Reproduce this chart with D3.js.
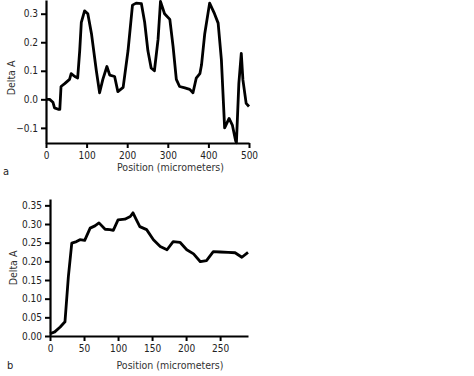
<!DOCTYPE html>
<html><head><meta charset="utf-8">
<script src="https://cdn.jsdelivr.net/npm/d3@7"></script>
<style>
body{margin:0;background:#fff;}
svg{display:block;}
text{font-family:"DejaVu Sans Condensed","DejaVu Sans",sans-serif;font-stretch:condensed;}
</style></head>
<body>
<svg id="c" width="474" height="376"></svg>
<script>
// Panel a
const posA = [0,9,17,21,30,34,37,46,58,62,71,78,83,87,95,103,112,124,132,140,150,157,169,177,190,202,213,222,235,243,251,259,267,276,282,292,305,313,321,329,342,354,362,370,379,383,391,403,415,424,432,440,451,459,467,469,475,481,485,493,500];
const deltaA = [0,0,-0.01,-0.03,-0.035,-0.035,0.045,0.055,0.07,0.09,0.08,0.075,0.17,0.27,0.31,0.30,0.23,0.10,0.023,0.07,0.115,0.085,0.08,0.027,0.042,0.17,0.33,0.337,0.335,0.27,0.17,0.11,0.10,0.21,0.343,0.30,0.28,0.185,0.07,0.045,0.04,0.035,0.023,0.074,0.09,0.12,0.23,0.337,0.30,0.267,0.138,-0.10,-0.067,-0.09,-0.145,-0.152,0.056,0.161,0.068,-0.014,-0.025];
const ticksAX = [0,100,200,300,400,500];
const ticksAY = [-0.1,0.0,0.1,0.2,0.3];

// Panel b
const posB = [0,7,15,22,27,32,39,44,51,59,66,72,81,88,93,100,110,118,122,127,132,142,152,162,172,181,191,201,211,221,230,240,250,262,272,282,291];
const deltaB = [0.006,0.011,0.024,0.038,0.159,0.249,0.253,0.258,0.256,0.289,0.295,0.303,0.286,0.285,0.283,0.311,0.313,0.32,0.33,0.311,0.293,0.285,0.258,0.24,0.231,0.253,0.251,0.231,0.22,0.199,0.202,0.226,0.225,0.224,0.223,0.211,0.224];
const ticksBX = [0,50,100,150,200,250];
const ticksBY = [0,0.05,0.10,0.15,0.20,0.25,0.30,0.35];

const svg = d3.select("#c");
const FF = '"DejaVu Sans Condensed","DejaVu Sans",sans-serif';

function panel(cfg){
  const g = svg.append("g");
  const x = d3.scaleLinear().domain(cfg.xd).range(cfg.xr);
  const y = d3.scaleLinear().domain(cfg.yd).range(cfg.yr);
  const xa = g.append("g").attr("transform",`translate(0,${cfg.yr[0]})`)
    .call(d3.axisBottom(x).tickValues(cfg.tx).tickFormat(d3.format("d")).tickSize(5).tickSizeOuter(0));
  const ya = g.append("g").attr("transform",`translate(${cfg.xr[0]},0)`)
    .call(d3.axisLeft(y).tickValues(cfg.ty).tickFormat(d3.format(cfg.yf)).tickSize(5).tickSizeOuter(0));
  [xa,ya].forEach(a=>{
    a.select(".domain").attr("stroke","#000").attr("stroke-width",2.2);
    a.selectAll(".tick line").attr("stroke","#000").attr("stroke-width",2);
    a.selectAll(".tick text").attr("fill","#222").style("font-size","10px").style("font-family",FF).style("font-stretch","condensed");
  });
  xa.selectAll(".tick text").attr("y",8).attr("dy","0.75em");
  ya.selectAll(".tick text").attr("x",-8);
  const line = d3.line().x((d,i)=>x(cfg.px[i])).y(d=>y(d));
  g.append("path").datum(cfg.py).attr("d",line).attr("fill","none")
    .attr("stroke","#000").attr("stroke-width",2.8).attr("stroke-linejoin","round");
  g.append("text").attr("x",(cfg.xr[0]+cfg.xr[1])/2+cfg.tdx).attr("y",cfg.ty0)
    .attr("text-anchor","middle").attr("fill","#333").style("font-size","10.5px").text("Position (micrometers)");
  g.append("text").attr("transform",`translate(${cfg.yl[0]},${cfg.yl[1]}) rotate(-90)`)
    .attr("text-anchor","middle").attr("fill","#333").style("font-size","10.5px").text("Delta A");
  g.append("text").attr("x",cfg.lab[0]).attr("y",cfg.lab[1]).attr("fill","#222").style("font-size","11px").text(cfg.name);
}

panel({xd:[0,500],xr:[46,249],yd:[-0.153,0.348],yr:[143,0],tx:ticksAX,ty:ticksAY,yf:".1f",
  px:posA,py:deltaA,tdx:23,ty0:171,yl:[15,78],lab:[3,175],name:"a"});
panel({xd:[0,291],xr:[50,248],yd:[0,0.367],yr:[336,199],tx:ticksBX,ty:ticksBY,yf:".2f",
  px:posB,py:deltaB,tdx:21,ty0:369,yl:[17,268],lab:[7,369],name:"b"});
</script>
</body></html>
